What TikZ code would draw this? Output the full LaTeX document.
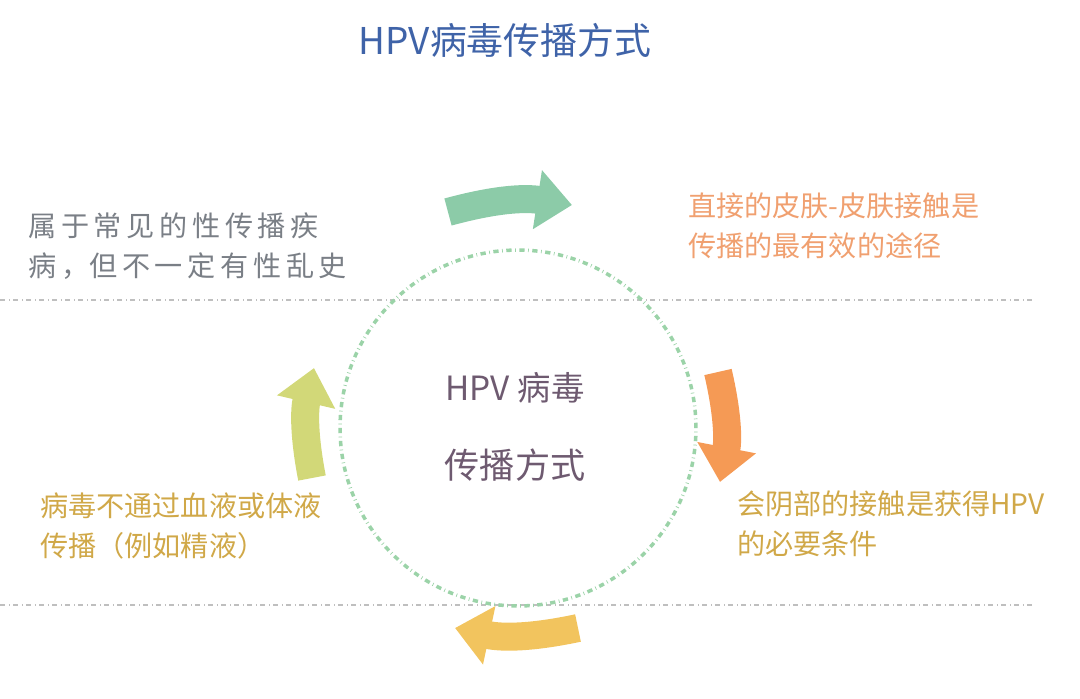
\documentclass[tikz,border=0pt]{standalone}
\usepackage{fontspec}
\setmainfont{Noto Sans CJK SC}
\usetikzlibrary{arrows.meta, positioning}
\definecolor{titleblue}{HTML}{3F63A8}
\definecolor{notegray}{HTML}{7A7F86}
\definecolor{noteorange}{HTML}{F0A070}
\definecolor{notegold}{HTML}{D0A848}
\definecolor{centerpurple}{HTML}{6E5A70}
\definecolor{ringgreen}{HTML}{9BD3A8}
\definecolor{arrgreen}{HTML}{8CCBA8}
\definecolor{arrorange}{HTML}{F59A55}
\definecolor{arryellow}{HTML}{F2C45E}
\definecolor{arrlime}{HTML}{D2D878}
\begin{document}
\begin{tikzpicture}[x=0.02cm, y=-0.02cm,
    note/.style={align=left, anchor=north west, font=\fontsize{16}{23}\selectfont, inner sep=0pt},
    bigarrow/.style={line width=0.56cm, -{Triangle[length=0.7cm, width=1.15cm]}},
    sep/.style={gray!50, dash dot, line width=1.2pt}]
  \useasboundingbox (0,0) rectangle (1080,698);
  % title
  \node[font=\fontsize{21}{24}\selectfont, text=titleblue] (title) at (505,40) {HPV病毒传播方式};
  % separators
  \coordinate (s1a) at (0,300); \coordinate (s1b) at (1035,300);
  \coordinate (s2a) at (0,605); \coordinate (s2b) at (1035,605);
  \draw[sep] (s1a) -- (s1b);
  \draw[sep] (s2a) -- (s2b);
  % ring
  \node[circle, minimum size=7.12cm, draw=ringgreen, dash dot, line width=2pt] (ring) at (518,428) {};
  \node[font=\fontsize{19}{22}\selectfont, text=centerpurple] (c1) at (515,388) {HPV 病毒};
  \node[font=\fontsize{20}{22}\selectfont, text=centerpurple] (c2) at (515,465) {传播方式};
  % arrows
  \coordinate (ga) at (448,212); \coordinate (gb) at (572,205);
  \coordinate (oa) at (718,372); \coordinate (ob) at (720,482);
  \coordinate (ya) at (578,628); \coordinate (yb) at (455,628);
  \coordinate (la) at (312,478); \coordinate (lb) at (314,368);
  \draw[bigarrow, arrgreen] (ga) to[bend left=12] (gb);
  \draw[bigarrow, arrorange] (oa) to[bend left=12] (ob);
  \draw[bigarrow, arryellow] (ya) to[bend left=12] (yb);
  \draw[bigarrow, arrlime] (la) to[bend left=12] (lb);
  % notes
  \node[note, text=notegray] (n1) at (28,212) {属\,于\,常\,见\,的\,性\,传\,播\,疾\\病\,，但\,不\,一\,定\,有\,性\,乱\,史};
  \node[note, text=noteorange] (n2) at (688,192) {直接的皮肤-皮肤接触是\\传播的最有效的途径};
  \node[note, text=notegold] (n3) at (737,490) {会阴部的接触是获得HPV\\的必要条件};
  \node[note, text=notegold] (n4) at (40,492) {病毒不通过血液或体液\\传播（例如精液）};
\end{tikzpicture}
\end{document}
